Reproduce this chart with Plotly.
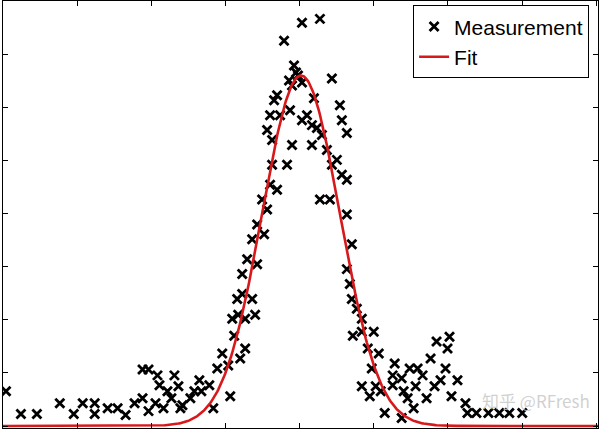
import numpy as np
import plotly.graph_objects as go

# measurement: sample index, signal (arbitrary units)
meas_x = [3,18,34,57,71,80,92,92,105,115,123,132,140,140,146,155,157,165,172,176,169,153,146,178,188,197,199,211,215,220,226,228,232,236,238,243,243,253,207,192,180,161,
          351,360,372,366,377,370,360,374,368,379,383,393,391,400,408,416,402,414,421,429,435,446,448,444,439,433,456,450,425,412,400,464,466,475,487,498,508,521,406,391,
          300,318,282,292,294,296,287,290,300,275,272,312,330,338,268,278,288,300,305,310,315,265,270,320,340,345,290,310,325,335,270,285,330,340,345,268,275,260,265,318,328,255,250,262,345,350,245,240,255,345,348,240,235,250,350,355,360,230]
meas_y = [35,12,12,23,12,23,23,12,18,18,11,23,28,57,57,51,41,35,51,40,28,23,15,18,28,46,35,18,58,73,61,30,91,112,68,78,108,112,41,35,21,18,
          91,95,95,78,73,58,40,40,30,35,13,63,51,48,58,58,35,40,51,68,85,78,90,58,46,40,46,30,28,18,8,23,13,13,13,13,13,13,28,41,
          406,410,388,363,356,353,348,343,346,333,328,330,350,323,313,313,318,308,313,303,300,298,288,293,308,295,283,283,278,268,263,263,263,253,248,243,238,228,218,228,228,203,188,193,213,183,168,153,163,158,143,133,128,128,128,118,108,108]

# fit parameters (Gaussian)
fit_amp, fit_mu, fit_sigma = 353, 299, 39
fit_x = np.linspace(0, 600, 601)
fit_y = fit_amp * np.exp(-0.5 * ((fit_x - fit_mu) / fit_sigma) ** 2)

fig = go.Figure()
fig.add_trace(go.Scatter(x=meas_x, y=meas_y, mode="markers", name="Measurement",
                         marker=dict(symbol="x-thin", size=9, color="black",
                                     line=dict(width=2.8, color="black"))))
fig.add_trace(go.Scatter(x=fit_x, y=fit_y, mode="lines", name="Fit",
                         line=dict(color="#d7191c", width=2.6)))

ax = dict(showgrid=False, zeroline=False, showline=True, linecolor="black", linewidth=1.2,
          mirror="ticks", ticks="inside", ticklen=5, tickcolor="black", showticklabels=False)
fig.update_xaxes(range=[0, 597], tick0=0, dtick=74.4, **ax)
fig.update_yaxes(range=[-2, 428], tick0=0, dtick=53.4, **ax)
fig.update_layout(
    width=600, height=430, margin=dict(l=3, r=2, t=1, b=2),
    plot_bgcolor="white", paper_bgcolor="white",
    font=dict(family="Liberation Sans", color="black"),
    legend=dict(x=0.985, y=0.99, xanchor="right", yanchor="top", bgcolor="white",
                bordercolor="black", borderwidth=1, font=dict(size=21), tracegroupgap=0),
    annotations=[dict(x=0.99, y=0.03, xref="paper", yref="paper", xanchor="right",
                      text="知乎 @RFresh", showarrow=False,
                      font=dict(size=17, color="rgba(200,200,200,0.85)", family="Noto Sans CJK SC"))],
)
fig.write_html("out.html", config={"displayModeBar": False})
with open("out.html", encoding="utf-8") as f:
    html = f.read()
html = html.replace("<head>", "<head><style>html,body{margin:0;padding:0;overflow:hidden;}</style>", 1)
with open("out.html", "w", encoding="utf-8") as f:
    f.write(html)
